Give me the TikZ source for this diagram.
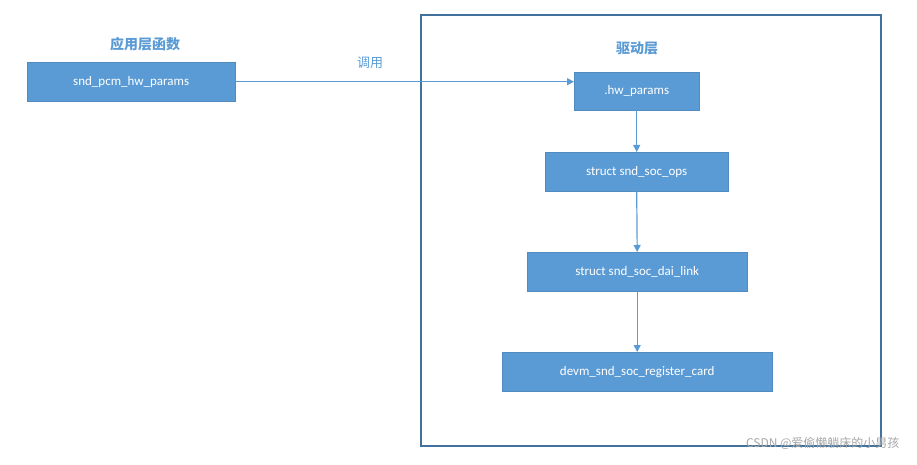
\documentclass[tikz,border=0pt]{standalone}
\usepackage{fontspec}
\setmainfont{Carlito}
\newfontfamily\cjk{Noto Sans CJK SC}
\usetikzlibrary{arrows.meta}
\definecolor{boxblue}{HTML}{5B9BD5}
\definecolor{framec}{HTML}{41719C}
\tikzset{
  bx/.style={draw=boxblue!90!black, fill=boxblue, text=white, font=\fontsize{13}{15}\selectfont, inner sep=0pt, anchor=north west},
  ttl/.style={text=boxblue, font=\cjk\fontsize{14}{16}\selectfont\bfseries},
  arr/.style={draw=boxblue, line width=1.2pt, -{Triangle[length=7pt,width=7pt]}}
}
\begin{document}
\begin{tikzpicture}[x=1pt,y=-1pt]
\useasboundingbox (0,0) rectangle (917,465);
\draw[framec, line width=1.5pt] (421,15) rectangle (881,446);
\node[ttl] (t1) at (145,44) {应用层函数};
\node[ttl] (t2) at (637,48) {驱动层};
\node[ttl, font=\cjk\fontsize{13}{15}\selectfont] (t3) at (370,63) {调用};
\node[bx, minimum width=208pt, minimum height=39pt] (a) at (27,62) {snd\_pcm\_hw\_params};
\node[bx, minimum width=125pt, minimum height=38pt] (b) at (574,72) {.hw\_params};
\node[bx, minimum width=183pt, minimum height=39pt] (c) at (545,152) {struct snd\_soc\_ops};
\node[bx, minimum width=220pt, minimum height=39pt] (d) at (527,252) {struct snd\_soc\_dai\_link};
\node[bx, minimum width=270pt, minimum height=39pt] (e) at (502,352) {devm\_snd\_soc\_register\_card};
\draw[arr] (a.east) -- (b.west |- a.east);
\draw[arr] (b.south) -- (c.north);
\draw[arr] (c.south) -- (d.north);
\draw[arr] (d.south) -- (e.north);
\node[text=gray!70, font=\cjk\fontsize{12}{14}\selectfont, anchor=east] (w) at (903,443) {CSDN @爱偷懒躺床的小男孩};
\end{tikzpicture}
\end{document}
